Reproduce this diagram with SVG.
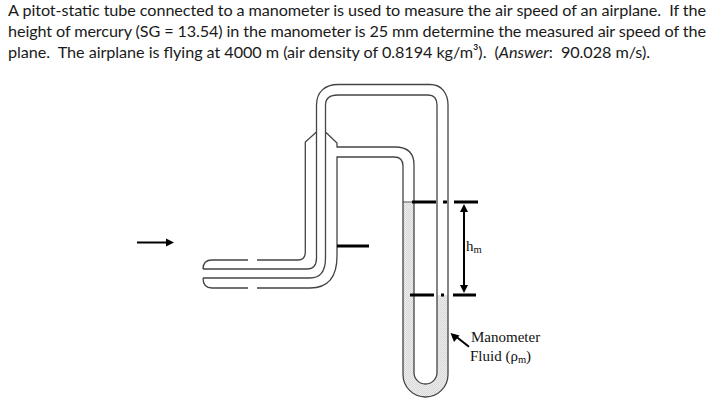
<svg xmlns="http://www.w3.org/2000/svg" width="720" height="412" viewBox="0 0 720 412">
<defs>
<pattern id="dots" width="2" height="2" patternUnits="userSpaceOnUse">
<rect width="2" height="2" fill="#ececec"/>
<rect width="1" height="1" fill="#d6d6d6"/>
<rect x="1" y="1" width="1" height="1" fill="#dcdcdc"/>
</pattern>
</defs>
<style>
.q{font-family:Lato,"Noto Sans","Liberation Sans",sans-serif;font-size:16.2px;fill:#1a1a1a;white-space:pre}
.s{font-family:"Liberation Serif",serif;font-size:15px;fill:#111}
.t{fill:none;stroke:#444;stroke-width:1.3}
.k{fill:none;stroke:#000;stroke-width:3}
.a{fill:none;stroke:#000;stroke-width:2}
</style>
<rect width="720" height="412" fill="#fff"/>
<g id="question">
<text class="q" x="8" y="16" textLength="698" lengthAdjust="spacing">A pitot-static tube connected to a manometer is used to measure the air speed of an airplane.  If the</text>
<text class="q" x="8" y="37" textLength="698" lengthAdjust="spacing">height of mercury (SG = 13.54) in the manometer is 25 mm determine the measured air speed of the</text>
<text class="q" x="8" y="58" textLength="642" lengthAdjust="spacing">plane.  The airplane is flying at 4000 m (air density of 0.8194 kg/m³).  (<tspan font-style="italic">Answer</tspan>:  90.028 m/s).</text>
</g>
<g id="manometer-fluid">
<path fill="url(#dots)" d="M403 202H414V372.500A11.500 11.500 0 0 0 437 372.500V295H448V374.500A22.500 22.500 0 0 1 403 374.500Z"/>
<path d="M403 202H414" stroke="#888" stroke-width="1.500"/>
</g>
<g id="connectors">
<path class="t" d="M203 269H307Q316.500 269 316.500 258V105C316.500 92 325 84.500 338 84.500H430C442 84.500 448 94 448 105V374.500A22.500 22.500 0 0 1 403 374.500V166Q403 157 394 157H337V256Q337 288 310 288H257M248 288H212Q203 288 203 278"/>
<path class="t" d="M203 278H310Q325.500 278 325.500 258V105Q325.500 95 338 95H428Q437 95 437 105V372.500A11.500 11.500 0 0 1 414 372.500V165Q414 147 395 147H337V143L325.500 132"/>
<path class="t" d="M316.500 132L305.300 142V252Q305.300 260 298 260H257M248 260H212Q203 260 203 269"/>
<path class="k" d="M337 246H369"/>
<path class="k" d="M412 202H436M443 202H447M454 202H478"/>
<path class="k" d="M410 295H434M441 295H444M453 295H476"/>
<path class="a" d="M464 208V288"/>
<path d="M464 204L460 212H468Z M464 293L460 285H468Z"/>
<path class="a" d="M137 242.500H167"/>
<path d="M174 242.500L166 238.500V246.500Z"/>
<path class="a" d="M469 346.700L454 335"/>
<path d="M450.500 333L459.500 335.500L454 342Z"/>
</g>
<g id="labels">
<text class="s" x="466" y="251">h<tspan font-size="10.500" dy="2">m</tspan></text>
<text class="s" x="471" y="342">Manometer</text>
<text class="s" x="470" y="361">Fluid (ρ<tspan font-size="10.500" dy="2">m</tspan><tspan dy="-2">)</tspan></text>
</g>
</svg>
